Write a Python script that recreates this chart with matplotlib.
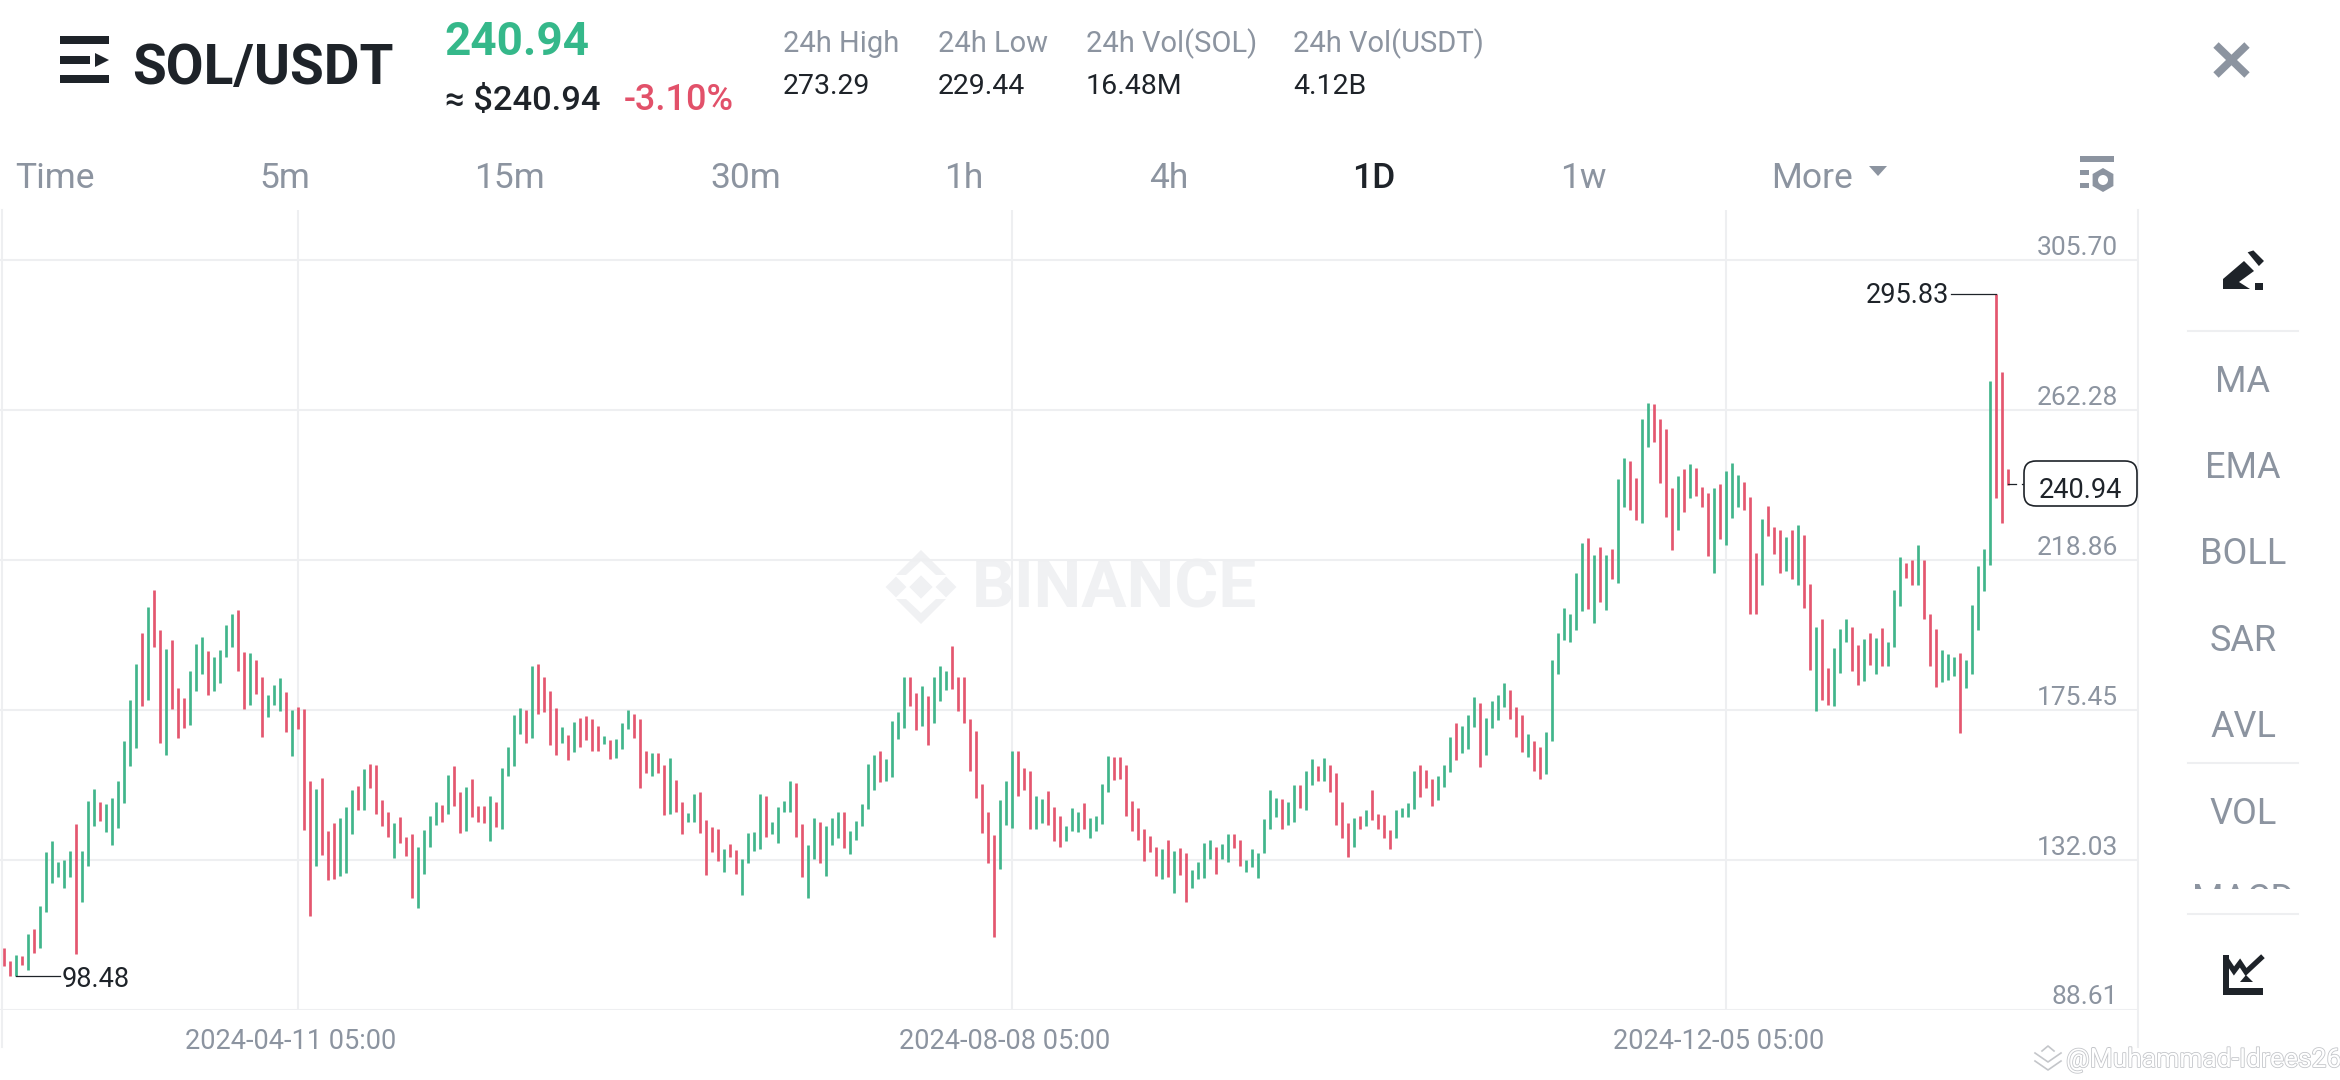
import matplotlib
matplotlib.use('Agg')
import matplotlib.pyplot as plt
from matplotlib.patches import FancyBboxPatch, Polygon, Rectangle, Circle, RegularPolygon
from matplotlib.transforms import ScaledTranslation
import matplotlib.patheffects as pe

plt.rcParams['font.family'] = ['Roboto', 'DejaVu Sans']

DARK = '#1E2329'
GREY = '#8C94A0'
GRID = '#EEEFF1'
GREEN = '#41B58B'
RED = '#E4566F'

# daily high/low
highs = [
    106.7, 102.8, 104.5, 104.2, 110.6, 112.0, 118.8, 134.3, 137.5, 131.5,
    131.9, 134.7, 142.5, 134.7, 149.1, 152.5, 148.9, 148.3, 150.0, 154.8,
    166.6, 178.3, 188.9, 197.8, 205.2, 210.2, 198.6, 193.1, 195.6, 181.8,
    178.8, 186.7, 194.6, 196.5, 192.6, 190.8, 192.9, 200.0, 203.1, 204.4,
    192.1, 191.9, 190.0, 185.0, 179.7, 182.6, 184.6, 180.8, 175.5, 176.3,
    175.8, 154.8, 152.7, 155.9, 140.4, 142.6, 144.1, 147.3, 152.2, 153.4,
    158.3, 159.8, 159.6, 149.4, 146.0, 142.8, 144.6, 138.8, 139.6, 135.8,
    140.7, 144.7, 148.9, 147.9, 156.7, 159.1, 151.8, 153.3, 155.6, 147.6,
    147.6, 150.7, 148.9, 158.7, 164.6, 173.9, 175.9, 175.4, 188.2, 188.8,
    184.9, 181.0, 175.9, 170.4, 168.2, 172.1, 173.0, 173.7, 172.8, 170.7,
    167.8, 166.8, 167.0, 171.6, 175.4, 174.2, 172.8, 163.6, 162.9, 162.9,
    159.5, 161.7, 155.1, 148.8, 145.5, 151.0, 151.6, 143.5, 141.7, 141.1,
    135.1, 136.6, 134.8, 132.4, 139.8, 140.1, 151.0, 150.6, 143.0, 147.4,
    149.2, 154.8, 154.3, 142.5, 136.3, 144.1, 143.1, 141.8, 144.1, 146.0,
    145.9, 140.3, 143.4, 148.3, 159.7, 162.3, 163.6, 161.4, 172.2, 174.9,
    185.0, 185.0, 180.4, 182.3, 179.4, 184.9, 188.2, 186.6, 194.0, 184.9,
    184.9, 172.8, 169.3, 153.9, 145.9, 139.2, 149.4, 154.8, 163.6, 163.5,
    158.6, 157.8, 150.5, 149.7, 152.0, 147.5, 144.7, 141.8, 147.1, 146.0,
    148.6, 144.1, 144.7, 154.0, 162.1, 161.8, 161.8, 159.5, 149.0, 147.2,
    140.9, 139.0, 135.9, 135.1, 137.9, 134.7, 135.4, 134.1, 129.2, 131.4,
    136.9, 137.8, 135.7, 136.6, 139.6, 139.6, 137.8, 132.1, 135.3, 134.1,
    143.8, 152.3, 150.1, 149.7, 148.8, 153.8, 153.7, 157.9, 161.3, 159.3,
    161.7, 159.5, 157.2, 148.7, 142.7, 144.3, 144.7, 146.5, 152.2, 145.4,
    145.2, 140.7, 146.4, 147.0, 148.6, 157.9, 159.5, 158.2, 155.6, 156.4,
    159.6, 167.7, 171.6, 170.8, 174.1, 179.1, 177.4, 173.0, 178.0, 179.7,
    183.3, 181.1, 176.4, 173.9, 168.4, 166.4, 164.8, 169.1, 189.8, 197.6,
    204.9, 203.2, 215.2, 223.9, 225.1, 220.3, 222.7, 220.4, 222.0, 242.3,
    248.4, 247.5, 242.5, 259.8, 264.4, 264.0, 259.8, 256.7, 239.7, 243.2,
    245.3, 246.8, 245.4, 239.9, 238.2, 239.6, 241.0, 244.7, 246.9, 243.6,
    241.5, 237.2, 221.0, 230.6, 234.6, 228.4, 227.5, 225.4, 227.5, 228.9,
    226.0, 212.0, 199.6, 201.9, 187.7, 193.3, 198.9, 201.7, 199.6, 194.3,
    195.9, 197.6, 196.3, 199.1, 195.1, 210.3, 219.7, 218.1, 218.9, 223.1,
    219.0, 203.2, 198.9, 192.8, 191.8, 190.8, 191.9, 189.9, 205.9, 217.0,
    222.0, 270.7, 295.83, 273.29, 245.2,
]
lows = [
    101.3, 98.5, 98.48, 101.7, 100.2, 105.0, 106.7, 117.1, 125.5, 127.0,
    124.0, 127.2, 104.8, 119.9, 130.4, 141.9, 143.4, 140.2, 136.4, 141.4,
    148.6, 159.1, 164.5, 176.7, 178.4, 193.8, 165.9, 162.4, 175.8, 167.4,
    170.3, 171.2, 180.9, 186.0, 179.9, 180.9, 183.4, 190.7, 193.6, 186.8,
    175.8, 176.8, 180.0, 167.7, 173.5, 176.8, 175.2, 169.0, 162.2, 170.0,
    140.8, 115.8, 130.3, 133.5, 126.2, 126.5, 127.4, 128.3, 139.5, 146.5,
    146.5, 152.9, 145.4, 142.0, 138.6, 132.7, 136.9, 133.3, 121.0, 118.2,
    128.1, 135.7, 142.1, 142.9, 145.3, 147.6, 139.9, 140.5, 144.4, 142.9,
    142.6, 137.6, 141.7, 141.1, 156.4, 159.2, 168.6, 165.9, 167.4, 174.4,
    175.0, 165.3, 162.4, 165.8, 160.9, 163.3, 164.8, 166.9, 163.5, 163.7,
    165.6, 161.3, 161.7, 164.3, 170.0, 167.4, 152.8, 157.3, 156.4, 157.1,
    145.2, 145.4, 146.0, 139.6, 142.9, 143.0, 139.8, 127.8, 134.3, 131.7,
    128.7, 132.9, 128.1, 121.8, 131.1, 134.7, 135.1, 138.8, 139.7, 137.0,
    145.8, 146.0, 138.8, 127.0, 120.9, 132.2, 131.1, 127.5, 136.3, 138.4,
    135.5, 133.8, 137.8, 141.8, 146.9, 152.4, 154.5, 155.0, 156.0, 167.1,
    170.2, 176.7, 169.6, 170.8, 165.3, 171.7, 178.0, 181.1, 181.6, 175.3,
    171.6, 157.8, 149.9, 139.9, 131.1, 109.8, 129.3, 142.1, 141.3, 150.6,
    152.4, 141.1, 141.1, 142.8, 142.3, 137.6, 135.9, 137.4, 140.5, 140.2,
    140.9, 138.5, 140.5, 142.5, 151.8, 155.1, 155.5, 144.9, 140.4, 137.9,
    131.8, 134.4, 127.5, 126.6, 127.0, 122.4, 127.6, 119.8, 124.0, 126.4,
    126.7, 132.3, 128.1, 132.2, 131.5, 135.5, 130.3, 128.7, 130.1, 126.9,
    134.2, 141.0, 144.5, 141.0, 142.1, 143.0, 147.1, 146.5, 153.8, 154.9,
    155.0, 151.6, 142.2, 138.4, 132.9, 135.8, 141.0, 141.9, 143.5, 141.0,
    138.5, 135.3, 138.5, 144.6, 144.4, 146.7, 150.2, 153.0, 147.6, 149.4,
    153.3, 157.5, 160.9, 162.9, 164.1, 170.4, 159.0, 162.4, 170.3, 172.5,
    176.3, 172.9, 167.5, 163.4, 161.9, 157.8, 155.4, 156.8, 166.5, 185.8,
    195.7, 195.0, 198.7, 204.2, 204.7, 200.7, 206.8, 204.5, 213.4, 212.2,
    234.1, 233.4, 230.5, 229.7, 251.7, 252.9, 241.1, 231.3, 221.9, 227.7,
    232.9, 236.7, 237.5, 234.2, 220.0, 215.1, 224.9, 223.1, 231.0, 234.3,
    233.4, 203.1, 203.2, 211.6, 225.9, 220.7, 215.2, 215.7, 213.3, 211.5,
    204.9, 187.0, 175.3, 178.3, 176.9, 176.5, 186.2, 195.0, 186.6, 182.8,
    183.8, 188.6, 186.0, 188.1, 188.1, 193.6, 205.7, 213.6, 211.5, 211.6,
    201.8, 188.3, 182.0, 183.5, 184.0, 185.2, 168.9, 181.9, 185.9, 198.5,
    210.0, 217.4, 236.7, 229.44, 240.5,
]
# G = up day, R = down day
directions = (
    'RRGRGRGGGG' 'GGRGGGRGGG' 'GGGRGRRGRR' 'RGGGRGGGGR' 'RGRRGGGRGR'
    'RRGRRRGGGR' 'GRRRRGRRRG' 'GGGRGRRGRR' 'RGRGGGGRGR' 'RRRGRGRRRR'
    'GRGGGRRRGR' 'RGRRGGRRRR' 'GRRGGGGRGG' 'GGRRGGRGGG' 'RGGGGGRGGG'
    'GRRGRGGGRR' 'RRRRRRGGGR' 'RRGGRRRGGG' 'RGGGGRRRRR' 'RRRGRGRRGG'
    'GGRGGRRGGG' 'GGGRGGRGGR' 'GRRRRGRGRR' 'RRGGGGRRRG' 'GGRGGGRGGG'
    'GRRRGRRGGG' 'GGGGRGRGRG' 'GRRGGRRRRG' 'RGRRRGRGGG' 'RRRGRRRGRG'
    'RRGRRGGGRR' 'GRGRGGGRRG' 'RRRGGGRGGG' 'GGRRR'
)

price_ticks = [305.70, 262.28, 218.86, 175.45, 132.03, 88.61]
date_idx = [49, 168, 287]
date_labels = ['2024-04-11 05:00', '2024-08-08 05:00', '2024-12-05 05:00']
last_price = 240.94
max_price = 295.83
min_price = 98.48

stats_names = ['24h High', '24h Low', '24h Vol(SOL)', '24h Vol(USDT)']
stats_values = ['273.29', '229.44', '16.48M', '4.12B']
intervals = ['Time', '5m', '15m', '30m', '1h', '4h', '1D', '1w', 'More']
indicators = ['MA', 'EMA', 'BOLL', 'SAR', 'AVL', 'VOL']

W, H = 2340, 1080
fig = plt.figure(figsize=(W / 100, H / 100), dpi=100, facecolor='white')

# price chart, 6px per bar, 150px per grid step
ax = fig.add_axes([0, (H - 1010) / H, 2138 / W, 800 / H])
ax.set_xlim(-4 / 6, 2134 / 6)
ax.set_ylim(88.61, 320.19)
for s in ax.spines.values():
    s.set_visible(False)
ax.set_yticks(price_ticks)
ax.set_yticklabels([])
ax.set_xticks(date_idx)
ax.set_xticklabels(date_labels, fontsize=19.5, color=GREY)
ax.tick_params(length=0, pad=13)
for lab in ax.get_xticklabels():
    lab.set_transform(lab.get_transform() + ScaledTranslation(-0.07, 0, fig.dpi_scale_trans))
ax.grid(True, color=GRID, lw=1.5)
ax.set_axisbelow(True)

xs = list(range(len(highs)))
colors = [GREEN if d == 'G' else RED for d in directions]
ax.vlines(xs, lows, highs, colors=colors, lw=1.95, capstyle='butt', zorder=3)

for v in price_ticks:
    ax.annotate(f'{v:.2f}', xy=(1, v), xycoords=ax.get_yaxis_transform(),
                xytext=(-14.5, 9), textcoords='offset points',
                ha='right', va='center', fontsize=19, color=GREY, zorder=5)

# extreme labels with leader lines
imax = highs.index(max_price)
ax.plot([imax - 7.5, imax], [max_price, max_price], color=DARK, lw=0.9, zorder=4)
ax.annotate(f'{max_price:.2f}', xy=(imax, max_price), xytext=(-34, -1), textcoords='offset points',
            ha='right', va='center', fontsize=19.5, color=DARK, zorder=5)
imin = lows.index(min_price)
ax.plot([imin, imin + 7.3], [min_price, min_price], color=DARK, lw=0.9, zorder=4)
ax.annotate(f'{min_price:.2f}', xy=(imin, min_price), xytext=(33, -2.5), textcoords='offset points',
            ha='left', va='center', fontsize=19.5, color=DARK, zorder=5)

# last price tick
ax.plot([xs[-1], xs[-1] + 1.3], [last_price, last_price], color=DARK, lw=0.9, zorder=4)
ax.plot([xs[-1] + 2.3, xs[-1] + 2.8], [last_price, last_price], color=DARK, lw=0.9, zorder=4)

# page furniture in screen pixels
ui = fig.add_axes([0, 0, 1, 1], facecolor='none', zorder=10)
ui.set_xlim(0, W)
ui.set_ylim(H, 0)
ui.axis('off')

ui.plot([2, 2], [210, 1047], color=GRID, lw=1.5)
ui.plot([2138, 2138], [210, 1047], color=GRID, lw=1.5)

# last price box
ui.add_patch(FancyBboxPatch((2036, 473), 89, 21, boxstyle='round,pad=12,rounding_size=12',
                            fc='white', ec=DARK, lw=1.2, zorder=6))
ui.text(2080, 490, f'{last_price:.2f}', ha='center', va='center', fontsize=19.5, color=DARK, zorder=7)

# watermark behind the bars
wm = fig.add_axes([0, 0, 1, 1], facecolor='none', zorder=1)
wm.set_xlim(0, W)
wm.set_ylim(H, 0)
wm.axis('off')
ax.set_zorder(2)
ax.patch.set_alpha(0)
WM = '#F0F1F3'
wm.text(972, 590, 'BINANCE', fontsize=48.5, fontweight='bold', color=WM, ha='left', va='center')
for cx, cy, r in [(921, 587, 9), (896, 587, 8), (946, 587, 8)]:
    wm.add_patch(RegularPolygon((cx, cy), 4, radius=r * 1.3, fc=WM, ec='none'))
wm.add_patch(Polygon([(921, 550), (946, 575), (936, 575), (921, 561), (906, 575), (896, 575)], fc=WM, ec='none'))
wm.add_patch(Polygon([(921, 624), (946, 599), (936, 599), (921, 613), (906, 599), (896, 599)], fc=WM, ec='none'))

# header
for rect in [(60, 36, 49, 8), (60, 56, 30, 8), (60, 75, 49, 8)]:
    ui.add_patch(Rectangle(rect[:2], rect[2], rect[3], fc=DARK, ec='none'))
ui.add_patch(Polygon([(95, 53), (109, 60), (95, 67)], fc=DARK, ec='none'))
ui.text(132, 69, 'SOL/USDT', fontsize=39.5, fontweight='bold', color=DARK, ha='left', va='center')
ui.text(444, 42, '240.94', fontsize=33, fontweight='bold', color='#35B88A', ha='left', va='center')
ui.text(445, 101, '≈ $240.94', fontsize=24.8, fontweight='medium', color=DARK, ha='left', va='center')
ui.text(624, 101, '-3.10%', fontsize=26, fontweight='medium', color='#E2516A', ha='left', va='center')

for x, name, val in zip([783, 938, 1086, 1293], stats_names, stats_values):
    ui.text(x, 44, name, fontsize=21, color=GREY, ha='left', va='center')
    ui.text(x, 86, val, fontsize=20.5, color=DARK, ha='left', va='center')

tab_x = [15, 259, 474, 710, 944, 1149, 1352, 1560, 1771]
for x, name in zip(tab_x, intervals):
    active = name == '1D'
    ui.text(x, 179, name, fontsize=25.5, color=DARK if active else GREY,
            fontweight='medium' if active else 'normal', ha='left', va='center')
ui.add_patch(Polygon([(1869, 166), (1887, 166), (1878, 176)], fc=GREY, ec='none'))

# close button
ui.plot([2216, 2247], [45, 75], color=GREY, lw=5.5, solid_capstyle='butt')
ui.plot([2216, 2247], [75, 45], color=GREY, lw=5.5, solid_capstyle='butt')

# settings icon
ui.add_patch(Rectangle((2080, 156), 34, 6, fc=GREY, ec='none'))
ui.add_patch(Rectangle((2080, 170), 9, 5, fc=GREY, ec='none'))
ui.add_patch(Rectangle((2080, 183), 9, 5, fc=GREY, ec='none'))
ui.add_patch(RegularPolygon((2103, 180), 6, radius=12, fc=GREY, ec='none'))
ui.add_patch(Circle((2103, 180), 5, fc='white', ec='none'))

# pencil icon
ui.add_patch(Polygon([(2223, 289), (2223, 279), (2244, 261), (2254, 271), (2239, 282), (2250, 289)], fc=DARK, ec='none'))
ui.add_patch(Polygon([(2250, 253), (2253, 252), (2262, 261), (2259, 264)], fc=DARK, ec=DARK, lw=2))
ui.add_patch(Rectangle((2255, 283), 8, 7, fc=DARK, ec='none'))

# sidebar indicators
for y, name in zip([382, 468, 554, 641, 727, 814], indicators):
    ui.text(2243, y, name, fontsize=26, color=GREY, ha='center', va='center')
macd = ui.text(2243, 900, 'MACD', fontsize=26, color=GREY, ha='center', va='center', clip_on=True)
macd.set_clip_path(Rectangle((2180, 860), 130, 29, transform=ui.transData))
for y in [331, 763, 914]:
    ui.plot([2188, 2298], [y, y], color=GRID, lw=1.5)

# chart icon
ui.add_patch(Rectangle((2223, 955), 6, 40, fc=DARK, ec='none'))
ui.add_patch(Rectangle((2223, 988), 40, 7, fc=DARK, ec='none'))
ui.plot([2228, 2234, 2240, 2246, 2261], [962, 971, 963, 972, 958], color=DARK, lw=3.8, solid_joinstyle='miter')
ui.add_patch(Polygon([(2240, 982), (2246, 975), (2253, 982)], fc=DARK, ec='none'))

# user watermark bottom right
ui.text(2066, 1060, '@Muhammad-Idrees26', fontsize=19, color='white', ha='left', va='center', zorder=8,
        path_effects=[pe.withStroke(linewidth=1.2, foreground='#C4C6CA')])
for dy in [0, 8]:
    ui.plot([2035, 2048, 2061], [1053 + dy, 1062 + dy, 1053 + dy], color='#C4C6CA', lw=1.2, zorder=8)
ui.plot([2042, 2048, 2054], [1051, 1046, 1051], color='#C4C6CA', lw=1.2, zorder=8)

fig.savefig('out.png', dpi=100, facecolor='white')
plt.close(fig)
